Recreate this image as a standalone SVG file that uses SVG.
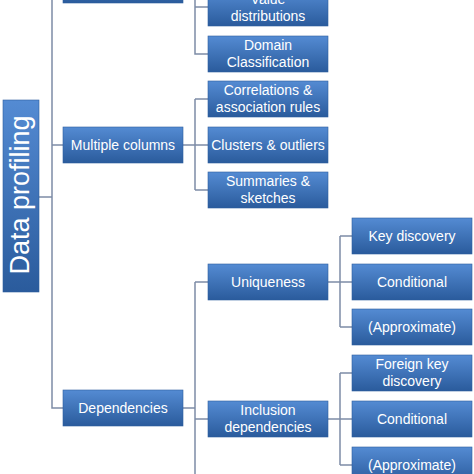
<svg xmlns="http://www.w3.org/2000/svg" width="474" height="474" viewBox="0 0 474 474">
<defs>
<linearGradient id="g" x1="0" y1="0" x2="0" y2="1">
<stop offset="0" stop-color="#548bd3"/>
<stop offset="1" stop-color="#2a5b9c"/>
</linearGradient>
<style>
.b{fill:url(#g);stroke:#2e5f9e;stroke-width:0.6}
.t{font-family:"Liberation Sans",Arial,sans-serif;font-size:14px;fill:#ffffff;text-anchor:middle}
.r{font-family:"Liberation Sans",Arial,sans-serif;font-size:27px;fill:#ffffff;text-anchor:middle}
.c{fill:none;stroke:#7d8ca6;stroke-width:1.5}
</style>
</defs>
<rect width="474" height="474" fill="#ffffff"/>
<g id="connectors">
<path class="c" d="M39 197H52M52 -20V408H63M52 145H63M52 -15H63"/>
<path class="c" d="M183 -15H195M195 -20V54H208M195 7H208"/>
<path class="c" d="M183 145H208M195 99V190M195 99H208M195 190H208"/>
<path class="c" d="M183 408H195M195 282V480M195 282H208M195 419H208"/>
<path class="c" d="M328 282H352M340 236V327M340 236H352M340 327H352"/>
<path class="c" d="M328 419H352M340 373V465M340 373H352M340 465H352"/>
</g>
<g id="root">
<rect class="b" x="3" y="100" width="36" height="192"/>
<text class="r" transform="translate(28.5 195) rotate(-90)" x="0" y="0">Data profiling</text>
</g>
<g id="single-column"><rect class="b" x="63" y="-33" width="120" height="36"/></g>
<g id="multiple-columns"><rect class="b" x="63" y="127" width="120" height="36"/><text class="t" x="123" y="150">Multiple columns</text></g>
<g id="dependencies"><rect class="b" x="63" y="390" width="120" height="36"/><text class="t" x="123" y="413">Dependencies</text></g>
<g id="value-distributions"><rect class="b" x="208" y="-10" width="120" height="36"/><text class="t" x="268" y="4">Value</text><text class="t" x="268" y="21">distributions</text></g>
<g id="domain-classification"><rect class="b" x="208" y="36" width="120" height="36"/><text class="t" x="268" y="50">Domain</text><text class="t" x="268" y="67">Classification</text></g>
<g id="correlations"><rect class="b" x="208" y="81" width="120" height="36"/><text class="t" x="268" y="95">Correlations &amp;</text><text class="t" x="268" y="112">association rules</text></g>
<g id="clusters"><rect class="b" x="208" y="127" width="120" height="36"/><text class="t" x="268" y="150">Clusters &amp; outliers</text></g>
<g id="summaries"><rect class="b" x="208" y="172" width="120" height="36"/><text class="t" x="268" y="186">Summaries &amp;</text><text class="t" x="268" y="203">sketches</text></g>
<g id="uniqueness"><rect class="b" x="208" y="264" width="120" height="36"/><text class="t" x="268" y="287">Uniqueness</text></g>
<g id="inclusion"><rect class="b" x="208" y="401" width="120" height="36"/><text class="t" x="268" y="415">Inclusion</text><text class="t" x="268" y="432">dependencies</text></g>
<g id="key-discovery"><rect class="b" x="352" y="218" width="120" height="36"/><text class="t" x="412" y="241">Key discovery</text></g>
<g id="u-conditional"><rect class="b" x="352" y="264" width="120" height="36"/><text class="t" x="412" y="287">Conditional</text></g>
<g id="u-approximate"><rect class="b" x="352" y="309" width="120" height="36"/><text class="t" x="412" y="332">(Approximate)</text></g>
<g id="foreign-key"><rect class="b" x="352" y="355" width="120" height="36"/><text class="t" x="412" y="369">Foreign key</text><text class="t" x="412" y="386">discovery</text></g>
<g id="i-conditional"><rect class="b" x="352" y="401" width="120" height="36"/><text class="t" x="412" y="424">Conditional</text></g>
<g id="i-approximate"><rect class="b" x="352" y="447" width="120" height="36"/><text class="t" x="412" y="470">(Approximate)</text></g>
</svg>
